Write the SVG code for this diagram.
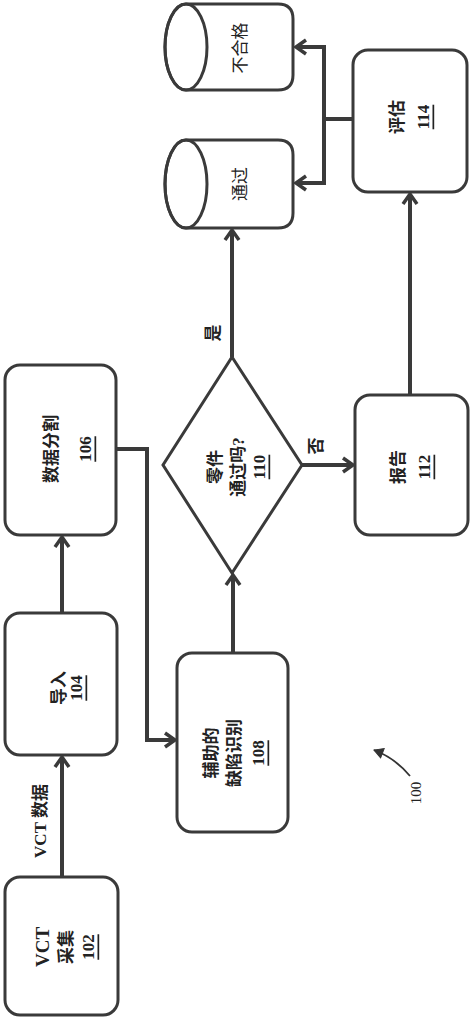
<svg xmlns="http://www.w3.org/2000/svg" width="474" height="1021" viewBox="0 0 474 1021">
<defs>
<marker id="arr" markerUnits="userSpaceOnUse" markerWidth="18" markerHeight="18" refX="13" refY="9" orient="auto">
<path d="M3,2 L13,9 L3,16" fill="none" stroke="#3a3a3a" stroke-width="3.5" stroke-linejoin="miter"/>
</marker>
<marker id="arrThin" markerUnits="userSpaceOnUse" markerWidth="14" markerHeight="14" refX="11" refY="7" orient="auto">
<path d="M2,2 L11,7 L2,12 Z" fill="#333" stroke="#333" stroke-width="1"/>
</marker>
</defs>
<style>
.box{fill:#fff;stroke:#3a3a3a;stroke-width:3}
.conn{fill:none;stroke:#3a3a3a;stroke-width:4}
.t{font-family:"Liberation Serif","Noto Sans CJK SC",serif;font-weight:bold;font-size:17px;fill:#222;text-anchor:middle;dominant-baseline:central}
.n{text-decoration:underline}
.reg{font-weight:normal}
</style>
<rect width="474" height="1021" fill="#fff"/>

<g id="connectors">
<line class="conn" x1="62" y1="877" x2="62" y2="757" marker-end="url(#arr)"/>
<line class="conn" x1="62" y1="613" x2="62" y2="537" marker-end="url(#arr)"/>
<polyline class="conn" points="116,449 147,449 147,740 175,740" marker-end="url(#arr)"/>
<line class="conn" x1="233" y1="653" x2="233" y2="575" marker-end="url(#arr)"/>
<line class="conn" x1="232" y1="357" x2="232" y2="230" marker-end="url(#arr)"/>
<line class="conn" x1="302" y1="465" x2="353" y2="465" marker-end="url(#arr)"/>
<line class="conn" x1="410" y1="395" x2="410" y2="194" marker-end="url(#arr)"/>
<line class="conn" x1="353" y1="119" x2="324" y2="119"/>
<polyline class="conn" points="324,47 324,183"/>
<line class="conn" x1="326" y1="47" x2="296" y2="47" marker-end="url(#arr)"/>
<line class="conn" x1="326" y1="183" x2="296" y2="183" marker-end="url(#arr)"/>
<text class="t" transform="translate(40,821) rotate(-90)">VCT 数据</text>
<text class="t" transform="translate(213,333) rotate(-90)">是</text>
<text class="t" transform="translate(316,446) rotate(-90)">否</text>
</g>

<g id="n102">
<rect class="box" x="5" y="877" width="113" height="138" rx="15"/>
<g transform="translate(62,947) rotate(-90)">
<text class="t" x="0" y="-20" style="font-size:19px">VCT</text>
<text class="t" x="0" y="4">采集</text>
<text class="t n" x="0" y="26">102</text>
</g>
</g>

<g id="n104">
<rect class="box" x="5" y="613" width="112" height="142" rx="15"/>
<g transform="translate(61,688) rotate(-90)">
<text class="t" x="0" y="-2">导入</text>
<text class="t n" x="0" y="15">104</text>
</g>
</g>

<g id="n106">
<rect class="box" x="5" y="365" width="111" height="170" rx="15"/>
<g transform="translate(61,449) rotate(-90)">
<text class="t" x="0" y="-10">数据分割</text>
<text class="t n" x="0" y="24">106</text>
</g>
</g>

<g id="n108">
<rect class="box" x="177" y="653" width="111" height="179" rx="15"/>
<g transform="translate(233,753) rotate(-90)">
<text class="t" x="0" y="-22">辅助的</text>
<text class="t" x="0" y="1">缺陷识别</text>
<text class="t n" x="0" y="25">108</text>
</g>
</g>

<g id="n110">
<polygon class="box" points="232,357 302,465 232,573 163,465"/>
<g transform="translate(237,467) rotate(-90)">
<text class="t" x="0" y="-22">零件</text>
<text class="t" x="0" y="1">通过吗?</text>
<text class="t n" x="0" y="22">110</text>
</g>
</g>

<g id="n112">
<rect class="box" x="355" y="395" width="113" height="140" rx="15"/>
<g transform="translate(411,467) rotate(-90)">
<text class="t" x="0" y="-13">报告</text>
<text class="t n" x="0" y="13">112</text>
</g>
</g>

<g id="n114">
<rect class="box" x="353" y="50" width="114" height="142" rx="15"/>
<g transform="translate(410,117) rotate(-90)">
<text class="t" x="0" y="-13">评估</text>
<text class="t n" x="0" y="13">114</text>
</g>
</g>

<g id="fail">
<path class="box" d="M186,4 L278,4 Q293,4 293,19 L293,75 Q293,90 278,90 L186,90 A21,43 0 0 1 186,4 Z"/>
<ellipse cx="186" cy="47" rx="21" ry="43" fill="none" stroke="#3a3a3a" stroke-width="3"/>
<text class="t reg" transform="translate(240,48) rotate(-90)">不合格</text>
</g>

<g id="pass">
<path class="box" d="M186,140 L278,140 Q293,140 293,155 L293,213 Q293,228 278,228 L186,228 A21,44 0 0 1 186,140 Z"/>
<ellipse cx="186" cy="184" rx="21" ry="44" fill="none" stroke="#3a3a3a" stroke-width="3"/>
<text class="t reg" transform="translate(240,184) rotate(-90)">通过</text>
</g>

<g id="ref100">
<path d="M410,776 Q395,758 374,750" fill="none" stroke="#333" stroke-width="1.8" marker-end="url(#arrThin)"/>
<text class="t reg" transform="translate(416,793) rotate(-90)" style="font-size:15px">100</text>
</g>
</svg>
